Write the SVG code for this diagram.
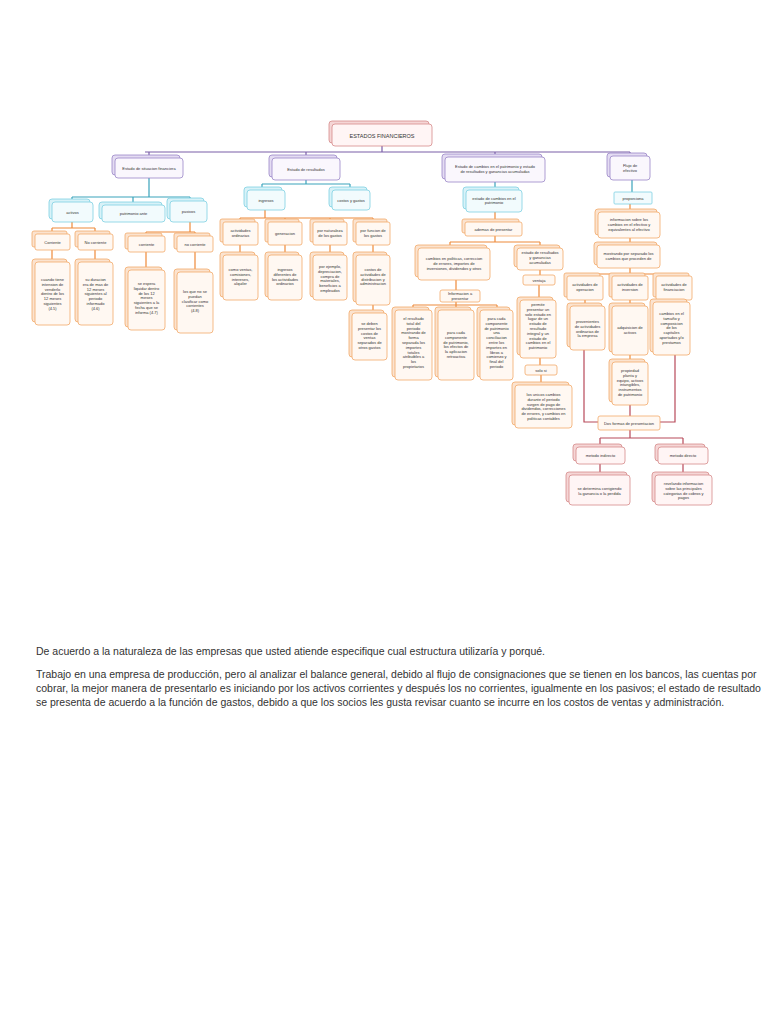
<svg xmlns="http://www.w3.org/2000/svg" width="768" height="1024" viewBox="0 0 768 1024">
<style>
text{font-family:"Liberation Sans",Arial,sans-serif;fill:#333}
.t{font-size:4px;text-anchor:middle}
.o rect{fill:#fff8f2;stroke:#f2a96a;stroke-width:0.8}
.o rect.b{fill:#fbe3cf}
.bl rect{fill:#f2fbfd;stroke:#7fd0e2;stroke-width:0.8}
.bl rect.b{fill:#d8f2f8}
.p rect{fill:#faf7fd;stroke:#9a86c8;stroke-width:0.8}
.p rect.b{fill:#e4dcf2}
.r rect{fill:#fff5f5;stroke:#d68a8a;stroke-width:0.8}
.r rect.b{fill:#f5d6d6}
.c path{fill:none;stroke-width:1.2}
.pl{stroke:#7a5ea8}.tl{stroke:#3aa3bb}.ol{stroke:#ee8a3a}.rl{stroke:#b84a5a}
.q{font-size:10.5px}
</style>
<rect width="768" height="1024" fill="#fff"/>
<g class="c">
<path class="pl" d="M382 146V152M145 152H630M149 152V158M306 152V158M495 152V157M630 152V156"/>
<path class="tl" d="M149 178V197M72 197H190M72 197V202M133 197V205M190 197V201M306 180V184M262 184H350M262 184V190M350 184V190M495 182V190M632 180V192"/>
<path class="ol" d="M72 222V228M52 228H95M52 228V234M95 228V234M52 250V262M95 250V262M190 222V232M146 232H195M146 232V236M195 232V236M146 252V270M195 252V272M265 210V218M240 218H373M240 218V222M285 218V222M330 218V222M373 218V222M240 245V255M285 245V255M330 245V255M373 245V255M373 305V313M495 212V222M495 236V242M450 242H540M450 242V248M540 242V248M456 280V290M456 302V305M413 305H497M413 305V310M456 305V310M497 305V310M540 270V275M539 285V300M540 358V365M541 375V385M630 204V212M630 238V245M630 268V274M585 274H675M585 274V276M630 274V276M675 274V276M585 300V306M630 300V306M672 300V302M630 355V362"/>
<path class="rl" d="M584 350V422H598M675 355V422H660M630 405V416M630 430V438M600 438H683M600 438V447M683 438V447M600 464V475M683 464V475"/>
</g>
<g id="n_ef" class="r"><rect class="b" x="329" y="121" width="100" height="22" rx="3"/><rect x="332" y="124" width="100" height="22" rx="3"/><text x="382" y="137.5" style="font-size:5.5px;text-anchor:middle">ESTADOS FINANCIEROS</text></g>
<g id="n_esf" class="p"><rect class="b" x="112" y="155" width="68" height="20" rx="3"/><rect x="115" y="158" width="68" height="20" rx="3"/><text class="t" x="149" y="169.5">Estado de situacion financiera</text></g>
<g id="n_er" class="p"><rect class="b" x="269" y="155" width="68" height="22" rx="3"/><rect x="272" y="158" width="68" height="22" rx="3"/><text class="t" x="306" y="170.5">Estado de resultados</text></g>
<g id="n_ecp" class="p"><rect class="b" x="442" y="154" width="100" height="25" rx="3"/><rect x="445" y="157" width="100" height="25" rx="3"/><text class="t" x="495" y="168">Estado de cambios en el patrimonio y estado<tspan x="495" dy="4.8">de resultados y ganancias acumuladas</tspan></text></g>
<g id="n_fe" class="p"><rect class="b" x="607" y="153" width="40" height="24" rx="3"/><rect x="610" y="156" width="40" height="24" rx="3"/><text class="t" x="630" y="167">Flujo de<tspan x="630" dy="4.8">efectivo</tspan></text></g>
<g id="n_act" class="bl"><rect class="b" x="49" y="199" width="41" height="20" rx="3"/><rect x="52" y="202" width="41" height="20" rx="3"/><text class="t" x="72.5" y="213.5">activos</text></g>
<g id="n_pat" class="bl"><rect class="b" x="99" y="202" width="63" height="17" rx="3"/><rect x="102" y="205" width="63" height="17" rx="3"/><text class="t" x="133.5" y="215">patrimonio ante</text></g>
<g id="n_pas" class="bl"><rect class="b" x="167" y="198" width="37" height="21" rx="3"/><rect x="170" y="201" width="37" height="21" rx="3"/><text class="t" x="188.5" y="213">pasivos</text></g>
<g id="n_c1" class="o"><rect class="b" x="32" y="231" width="35" height="16" rx="2"/><rect x="35" y="234" width="35" height="16" rx="2"/><text class="t" x="52.5" y="243.5">Corriente</text></g>
<g id="n_nc1" class="o"><rect class="b" x="75" y="231" width="35" height="16" rx="2"/><rect x="78" y="234" width="35" height="16" rx="2"/><text class="t" x="95.5" y="243.5">No corriente</text></g>
<g id="n_c2" class="o"><rect class="b" x="125" y="233" width="37" height="16" rx="2"/><rect x="128" y="236" width="37" height="16" rx="2"/><text class="t" x="146.5" y="245.5">corriente</text></g>
<g id="n_nc2" class="o"><rect class="b" x="174" y="233" width="36" height="16" rx="2"/><rect x="177" y="236" width="36" height="16" rx="2"/><text class="t" x="195" y="245.5">no corriente</text></g>
<g id="n_t1" class="o"><rect class="b" x="32" y="259" width="35" height="63" rx="3"/><rect x="35" y="262" width="35" height="63" rx="3"/><text class="t" x="52.5" y="281">cuando tiene<tspan x="52.5" dy="4.8">intension de</tspan><tspan x="52.5" dy="4.8">venderlo</tspan><tspan x="52.5" dy="4.8">dentro de los</tspan><tspan x="52.5" dy="4.8">12 meses</tspan><tspan x="52.5" dy="4.8">siguientes</tspan><tspan x="52.5" dy="4.8">(4.5)</tspan></text></g>
<g id="n_t2" class="o"><rect class="b" x="75" y="259" width="35" height="63" rx="3"/><rect x="78" y="262" width="35" height="63" rx="3"/><text class="t" x="95.5" y="281">su duracion<tspan x="95.5" dy="4.8">era de mas de</tspan><tspan x="95.5" dy="4.8">12 meses</tspan><tspan x="95.5" dy="4.8">siguientes al</tspan><tspan x="95.5" dy="4.8">periodo</tspan><tspan x="95.5" dy="4.8">informado</tspan><tspan x="95.5" dy="4.8">(4.6)</tspan></text></g>
<g id="n_t3" class="o"><rect class="b" x="125" y="267" width="37" height="60" rx="3"/><rect x="128" y="270" width="37" height="60" rx="3"/><text class="t" x="146.5" y="285">se espera<tspan x="146.5" dy="4.8">liquidar dentro</tspan><tspan x="146.5" dy="4.8">de los 12</tspan><tspan x="146.5" dy="4.8">meses</tspan><tspan x="146.5" dy="4.8">siguientes a la</tspan><tspan x="146.5" dy="4.8">fecha que se</tspan><tspan x="146.5" dy="4.8">informa (4.7)</tspan></text></g>
<g id="n_t4" class="o"><rect class="b" x="174" y="269" width="36" height="61" rx="3"/><rect x="177" y="272" width="36" height="61" rx="3"/><text class="t" x="195" y="293">los que no se<tspan x="195" dy="4.8">puedan</tspan><tspan x="195" dy="4.8">clasificar como</tspan><tspan x="195" dy="4.8">corrientes</tspan><tspan x="195" dy="4.8">(4.8)</tspan></text></g>
<g id="n_ing" class="bl"><rect class="b" x="244" y="187" width="38" height="20" rx="3"/><rect x="247" y="190" width="38" height="20" rx="3"/><text class="t" x="266" y="201.5">ingresos</text></g>
<g id="n_cg" class="bl"><rect class="b" x="329" y="187" width="38" height="20" rx="3"/><rect x="332" y="190" width="38" height="20" rx="3"/><text class="t" x="351" y="201.5">costos y gastos</text></g>
<g id="n_ao" class="o"><rect class="b" x="220" y="219" width="35" height="23" rx="2"/><rect x="223" y="222" width="35" height="23" rx="2"/><text class="t" x="240.5" y="232">actividades<tspan x="240.5" dy="4.8">ordinarias</tspan></text></g>
<g id="n_gen" class="o"><rect class="b" x="265" y="219" width="34" height="23" rx="2"/><rect x="268" y="222" width="34" height="23" rx="2"/><text class="t" x="285" y="235">generacion</text></g>
<g id="n_pn" class="o"><rect class="b" x="310" y="219" width="34" height="23" rx="2"/><rect x="313" y="222" width="34" height="23" rx="2"/><text class="t" x="330" y="232">por naturaleza<tspan x="330" dy="4.8">de los gastos</tspan></text></g>
<g id="n_pf" class="o"><rect class="b" x="353" y="219" width="34" height="23" rx="2"/><rect x="356" y="222" width="34" height="23" rx="2"/><text class="t" x="373" y="232">por funcion de<tspan x="373" dy="4.8">los gastos</tspan></text></g>
<g id="n_cv" class="o"><rect class="b" x="220" y="252" width="35" height="45" rx="3"/><rect x="223" y="255" width="35" height="45" rx="3"/><text class="t" x="240.5" y="271">como ventas,<tspan x="240.5" dy="4.8">comisiones,</tspan><tspan x="240.5" dy="4.8">intereses,</tspan><tspan x="240.5" dy="4.8">alquiler</tspan></text></g>
<g id="n_id" class="o"><rect class="b" x="265" y="252" width="34" height="45" rx="3"/><rect x="268" y="255" width="34" height="45" rx="3"/><text class="t" x="285" y="271">ingresos<tspan x="285" dy="4.8">diferentes de</tspan><tspan x="285" dy="4.8">los actividades</tspan><tspan x="285" dy="4.8">ordinarios</tspan></text></g>
<g id="n_pe" class="o"><rect class="b" x="310" y="252" width="34" height="45" rx="3"/><rect x="313" y="255" width="34" height="45" rx="3"/><text class="t" x="330" y="268">por ejemplo,<tspan x="330" dy="4.8">depreciacion,</tspan><tspan x="330" dy="4.8">compra de</tspan><tspan x="330" dy="4.8">materiales,</tspan><tspan x="330" dy="4.8">beneficios a</tspan><tspan x="330" dy="4.8">empleados</tspan></text></g>
<g id="n_ca" class="o"><rect class="b" x="353" y="252" width="34" height="50" rx="3"/><rect x="356" y="255" width="34" height="50" rx="3"/><text class="t" x="373" y="271">costos de<tspan x="373" dy="4.8">actividades de</tspan><tspan x="373" dy="4.8">distribucion y</tspan><tspan x="373" dy="4.8">administracion</tspan></text></g>
<g id="n_sd" class="o"><rect class="b" x="349" y="310" width="35" height="47" rx="3"/><rect x="352" y="313" width="35" height="47" rx="3"/><text class="t" x="369.5" y="325">se deben<tspan x="369.5" dy="4.8">presentar los</tspan><tspan x="369.5" dy="4.8">costos de</tspan><tspan x="369.5" dy="4.8">ventas</tspan><tspan x="369.5" dy="4.8">separados de</tspan><tspan x="369.5" dy="4.8">otros gastos</tspan></text></g>
<g id="n_ecpa" class="bl"><rect class="b" x="463" y="187" width="56" height="22" rx="3"/><rect x="466" y="190" width="56" height="22" rx="3"/><text class="t" x="494" y="199.5">estado de cambios en el<tspan x="494" dy="4.8">patrimonio</tspan></text></g>
<g id="n_adp" class="o"><rect class="b" x="462" y="219" width="57" height="14" rx="2"/><rect x="465" y="222" width="57" height="14" rx="2"/><text class="t" x="493.5" y="230.5">ademas de presentar</text></g>
<g id="n_cpo" class="o"><rect class="b" x="415" y="245" width="72" height="32" rx="3"/><rect x="418" y="248" width="72" height="32" rx="3"/><text class="t" x="454" y="260">cambios en politicas, correccion<tspan x="454" dy="4.8">de errores, importes de</tspan><tspan x="454" dy="4.8">inversiones, dividendos y otros</tspan></text></g>
<g id="n_erg" class="o"><rect class="b" x="514" y="245" width="46" height="22" rx="3"/><rect x="517" y="248" width="46" height="22" rx="3"/><text class="t" x="540" y="254">estado de resultados<tspan x="540" dy="4.8">y ganancias</tspan><tspan x="540" dy="4.8">acumuladas</tspan></text></g>
<g id="n_iap" class="o"><rect x="440" y="290" width="40" height="12" rx="2"/><text class="t" x="460" y="295">Informacion a<tspan x="460" dy="4.8">presentar</tspan></text></g>
<g id="n_rt" class="o"><rect class="b" x="392" y="307" width="37" height="70" rx="3"/><rect x="395" y="310" width="37" height="70" rx="3"/><text class="t" x="413.5" y="320">el resultado<tspan x="413.5" dy="4.8">total del</tspan><tspan x="413.5" dy="4.8">periodo</tspan><tspan x="413.5" dy="4.8">mostrando de</tspan><tspan x="413.5" dy="4.8">forma</tspan><tspan x="413.5" dy="4.8">separada los</tspan><tspan x="413.5" dy="4.8">importes</tspan><tspan x="413.5" dy="4.8">totales</tspan><tspan x="413.5" dy="4.8">atribuibles a</tspan><tspan x="413.5" dy="4.8">los</tspan><tspan x="413.5" dy="4.8">propietarios</tspan></text></g>
<g id="n_pc1" class="o"><rect class="b" x="435" y="307" width="36" height="70" rx="3"/><rect x="438" y="310" width="36" height="70" rx="3"/><text class="t" x="456" y="334">para cada<tspan x="456" dy="4.8">componente</tspan><tspan x="456" dy="4.8">de patrimonio,</tspan><tspan x="456" dy="4.8">los efectos de</tspan><tspan x="456" dy="4.8">la aplicacion</tspan><tspan x="456" dy="4.8">retroactiva</tspan></text></g>
<g id="n_pc2" class="o"><rect class="b" x="477" y="307" width="33" height="70" rx="3"/><rect x="480" y="310" width="33" height="70" rx="3"/><text class="t" x="496.5" y="320">para cada<tspan x="496.5" dy="4.8">componente</tspan><tspan x="496.5" dy="4.8">de patrimonio</tspan><tspan x="496.5" dy="4.8">una</tspan><tspan x="496.5" dy="4.8">conciliacion</tspan><tspan x="496.5" dy="4.8">entre los</tspan><tspan x="496.5" dy="4.8">importes en</tspan><tspan x="496.5" dy="4.8">libros a</tspan><tspan x="496.5" dy="4.8">comienzo y</tspan><tspan x="496.5" dy="4.8">final del</tspan><tspan x="496.5" dy="4.8">periodo</tspan></text></g>
<g id="n_ven" class="o"><rect x="523" y="275" width="32" height="10" rx="2"/><text class="t" x="539" y="281.5">ventaja</text></g>
<g id="n_pp" class="o"><rect class="b" x="517" y="297" width="36" height="58" rx="3"/><rect x="520" y="300" width="36" height="58" rx="3"/><text class="t" x="538" y="306">permite<tspan x="538" dy="4.8">presentar un</tspan><tspan x="538" dy="4.8">solo estado en</tspan><tspan x="538" dy="4.8">lugar de un</tspan><tspan x="538" dy="4.8">estado de</tspan><tspan x="538" dy="4.8">resultado</tspan><tspan x="538" dy="4.8">integral y un</tspan><tspan x="538" dy="4.8">estado de</tspan><tspan x="538" dy="4.8">cambios en el</tspan><tspan x="538" dy="4.8">patrimonio</tspan></text></g>
<g id="n_ss" class="o"><rect x="525" y="365" width="32" height="10" rx="2"/><text class="t" x="541" y="371.5">solo si</text></g>
<g id="n_uc" class="o"><rect class="b" x="512" y="382" width="57" height="43" rx="3"/><rect x="515" y="385" width="57" height="43" rx="3"/><text class="t" x="543.5" y="396">los unicos cambios<tspan x="543.5" dy="4.8">durante el periodo</tspan><tspan x="543.5" dy="4.8">surgen de pago de</tspan><tspan x="543.5" dy="4.8">dividendos, correcciones</tspan><tspan x="543.5" dy="4.8">de errores, y cambios en</tspan><tspan x="543.5" dy="4.8">politicas contables</tspan></text></g>
<g id="n_pro" class="bl"><rect x="614" y="192" width="38" height="12" rx="1"/><text class="t" x="633" y="199.5">proporciona</text></g>
<g id="n_isc" class="o"><rect class="b" x="595" y="209" width="62" height="26" rx="3"/><rect x="598" y="212" width="62" height="26" rx="3"/><text class="t" x="629" y="221">informacion sobre los<tspan x="629" dy="4.8">cambios en el efectivo y</tspan><tspan x="629" dy="4.8">equivalentes al efectivo</tspan></text></g>
<g id="n_mos" class="o"><rect class="b" x="594" y="242" width="63" height="23" rx="3"/><rect x="597" y="245" width="63" height="23" rx="3"/><text class="t" x="628.5" y="255">mostrando por separado los<tspan x="628.5" dy="4.8">cambios que proceden de</tspan></text></g>
<g id="n_aop" class="o"><rect class="b" x="564" y="273" width="36" height="24" rx="2"/><rect x="567" y="276" width="36" height="24" rx="2"/><text class="t" x="585" y="286">actividades de<tspan x="585" dy="4.8">operacion</tspan></text></g>
<g id="n_ain" class="o"><rect class="b" x="609" y="273" width="36" height="24" rx="2"/><rect x="612" y="276" width="36" height="24" rx="2"/><text class="t" x="630" y="286">actividades de<tspan x="630" dy="4.8">inversion</tspan></text></g>
<g id="n_afi" class="o"><rect class="b" x="653" y="273" width="36" height="24" rx="2"/><rect x="656" y="276" width="36" height="24" rx="2"/><text class="t" x="674" y="286">actividades de<tspan x="674" dy="4.8">financiacion</tspan></text></g>
<g id="n_prov" class="o"><rect class="b" x="567" y="303" width="35" height="44" rx="3"/><rect x="570" y="306" width="35" height="44" rx="3"/><text class="t" x="587.5" y="323">provenientes<tspan x="587.5" dy="4.8">de actividades</tspan><tspan x="587.5" dy="4.8">ordinarias de</tspan><tspan x="587.5" dy="4.8">la empresa</tspan></text></g>
<g id="n_adq" class="o"><rect class="b" x="609" y="303" width="36" height="49" rx="3"/><rect x="612" y="306" width="36" height="49" rx="3"/><text class="t" x="630" y="329">adquisicion de<tspan x="630" dy="4.8">activos</tspan></text></g>
<g id="n_cet" class="o"><rect class="b" x="650" y="299" width="37" height="53" rx="3"/><rect x="653" y="302" width="37" height="53" rx="3"/><text class="t" x="671.5" y="315">cambios en el<tspan x="671.5" dy="4.8">tamaño y</tspan><tspan x="671.5" dy="4.8">composicion</tspan><tspan x="671.5" dy="4.8">de los</tspan><tspan x="671.5" dy="4.8">capitales</tspan><tspan x="671.5" dy="4.8">aportados y/o</tspan><tspan x="671.5" dy="4.8">prestamos</tspan></text></g>
<g id="n_ppe" class="o"><rect class="b" x="609" y="359" width="36" height="43" rx="3"/><rect x="612" y="362" width="36" height="43" rx="3"/><text class="t" x="630" y="372">propiedad<tspan x="630" dy="4.8">planta y</tspan><tspan x="630" dy="4.8">equipo, activos</tspan><tspan x="630" dy="4.8">intangibles,</tspan><tspan x="630" dy="4.8">instrumentos</tspan><tspan x="630" dy="4.8">de patrimonio</tspan></text></g>
<g id="n_dfp" class="o"><rect x="598" y="416" width="62" height="14" rx="2"/><text class="t" x="629" y="424.5">Dos formas de presentacion</text></g>
<g id="n_mi" class="r"><rect class="b" x="573" y="444" width="49" height="17" rx="3"/><rect x="576" y="447" width="49" height="17" rx="3"/><text class="t" x="600.5" y="457">metodo indirecto</text></g>
<g id="n_md" class="r"><rect class="b" x="655" y="444" width="50" height="17" rx="3"/><rect x="658" y="447" width="50" height="17" rx="3"/><text class="t" x="683" y="457">metodo directo</text></g>
<g id="n_sdc" class="r"><rect class="b" x="566" y="472" width="61" height="30" rx="3"/><rect x="569" y="475" width="61" height="30" rx="3"/><text class="t" x="599.5" y="490">se determina corrigiendo<tspan x="599.5" dy="4.8">la ganancia o la perdida</tspan></text></g>
<g id="n_rev" class="r"><rect class="b" x="652" y="472" width="57" height="30" rx="3"/><rect x="655" y="475" width="57" height="30" rx="3"/><text class="t" x="683.5" y="485">revelando informacion<tspan x="683.5" dy="4.8">sobre las principales</tspan><tspan x="683.5" dy="4.8">categorias de cobros y</tspan><tspan x="683.5" dy="4.8">pagos</tspan></text></g>
<text class="q" x="36" y="655">De acuerdo a la naturaleza de las empresas que usted atiende especifique cual estructura utilizaría y porqué.</text>
<text class="q" x="36" y="678">Trabajo en una empresa de producción, pero al analizar el balance general, debido al flujo de consignaciones que se tienen en los bancos, las cuentas por</text>
<text class="q" x="36" y="692">cobrar, la mejor manera de presentarlo es iniciando por los activos  corrientes y después los no corrientes, igualmente en los pasivos; el estado de resultado</text>
<text class="q" x="36" y="706">se presenta de acuerdo a la función de gastos, debido a que los socios les gusta revisar cuanto se incurre en los costos de ventas y administración.</text>
</svg>
